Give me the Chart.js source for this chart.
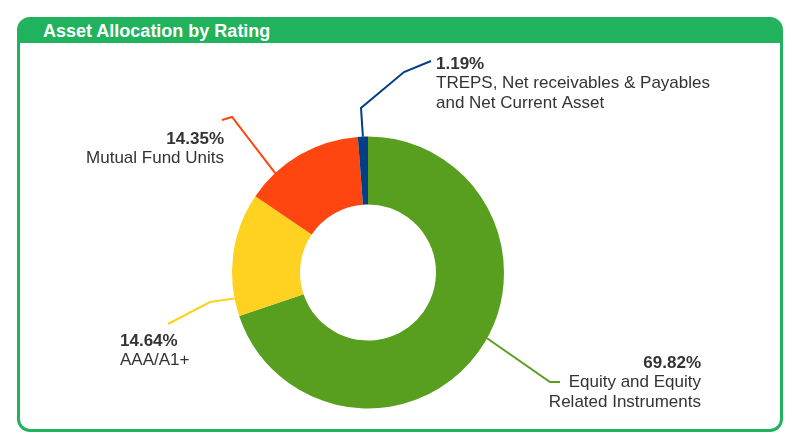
<!DOCTYPE html>
<html lang="en">

<head>
  <meta charset="UTF-8">
  <title>Asset Allocation by Rating</title>
  <style>
    body { margin: 0; background: #fff; font-family: "Liberation Sans", Arial, sans-serif; }
    .marco {
      position: absolute; left: 17px; top: 17px; width: 760px; height: 409px;
      border: 3px solid #20b25c; border-radius: 13px;
    }
    .cabecera {
      position: absolute; left: 0; top: 0; right: 0; height: 23px;
      background: #20b25c; border-radius: 9px 9px 0 0;
      color: #fff; font-weight: bold; font-size: 18px; line-height: 22px; padding-left: 23px;
    }
    .grafica { position: absolute; left: 0; top: 0; width: 792px; height: 439px; }
  </style>
</head>

<body>

  <div class="marco">
    <div class="cabecera">Asset Allocation by Rating</div>
  </div>
  <div class="grafica">
    <canvas id="myChart" width="792" height="439"></canvas>
  </div>

  <script src="https://cdn.jsdelivr.net/npm/chart.js"></script>

  <script>
    // datos
    const categorias = [
      'Equity and Equity Related Instruments',
      'AAA/A1+',
      'Mutual Fund Units',
      'TREPS, Net receivables & Payables and Net Current Asset'
    ]
    const valores = [69.82, 14.64, 14.35, 1.19]
    const etiquetas = [
      ['Equity and Equity', 'Related Instruments'],
      ['AAA/A1+'],
      ['Mutual Fund Units'],
      ['TREPS, Net receivables & Payables', 'and Net Current Asset']
    ]
    const colores = ['#589f1f', '#ffd120', '#ff4510', '#023f86']

    // donde sale cada linea del arco (fraccion del segmento), codos y texto
    const llamadas = [
      { frac: 0.473, codos: [[550, 382], [560, 382]], x: 701, y: 363, align: 'right' },
      { frac: 0.145, codos: [[210, 302], [168, 324]], x: 120, y: 341, align: 'left' },
      { frac: 0.25, codos: [[232, 117], [222, 120]], x: 224, y: 139, align: 'right' },
      { frac: 0.5, codos: [[361, 108], [404, 72], [431, 61]], x: 436, y: 64, align: 'left' }
    ]

    const pluginLlamadas = {
      id: 'llamadas',
      afterDraw (chart) {
        const ctx = chart.ctx
        const arcos = chart.getDatasetMeta(0).data
        arcos.forEach((arco, i) => {
          const ll = llamadas[i]
          const ang = arco.startAngle + (arco.endAngle - arco.startAngle) * ll.frac
          const x0 = arco.x + Math.cos(ang) * arco.outerRadius
          const y0 = arco.y + Math.sin(ang) * arco.outerRadius
          ctx.save()
          ctx.strokeStyle = colores[i]
          ctx.lineWidth = 2
          ctx.beginPath()
          ctx.moveTo(x0, y0)
          ll.codos.forEach(p => ctx.lineTo(p[0], p[1]))
          ctx.stroke()

          ctx.fillStyle = '#333333'
          ctx.textAlign = ll.align
          ctx.textBaseline = 'middle'
          ctx.font = 'bold 17px "Liberation Sans", Arial, sans-serif'
          ctx.fillText(valores[i].toFixed(2) + '%', ll.x, ll.y)
          ctx.font = '17px "Liberation Sans", Arial, sans-serif'
          etiquetas[i].forEach((t, k) => ctx.fillText(t, ll.x, ll.y + 19.5 * (k + 1)))
          ctx.restore()
        })
      }
    }

    const config = {
      type: 'doughnut',
      data: {
        labels: categorias,
        datasets: [{
          data: valores,
          backgroundColor: colores,
          borderWidth: 0
        }]
      },
      options: {
        responsive: false,
        animation: false,
        cutout: '50%',
        layout: { padding: { left: 232, right: 288, top: 136.5, bottom: 30.5 } },
        plugins: {
          legend: { display: false },
          tooltip: { enabled: false }
        }
      },
      plugins: [pluginLlamadas]
    }

    new Chart(document.getElementById('myChart'), config)
  </script>
</body>

</html>
